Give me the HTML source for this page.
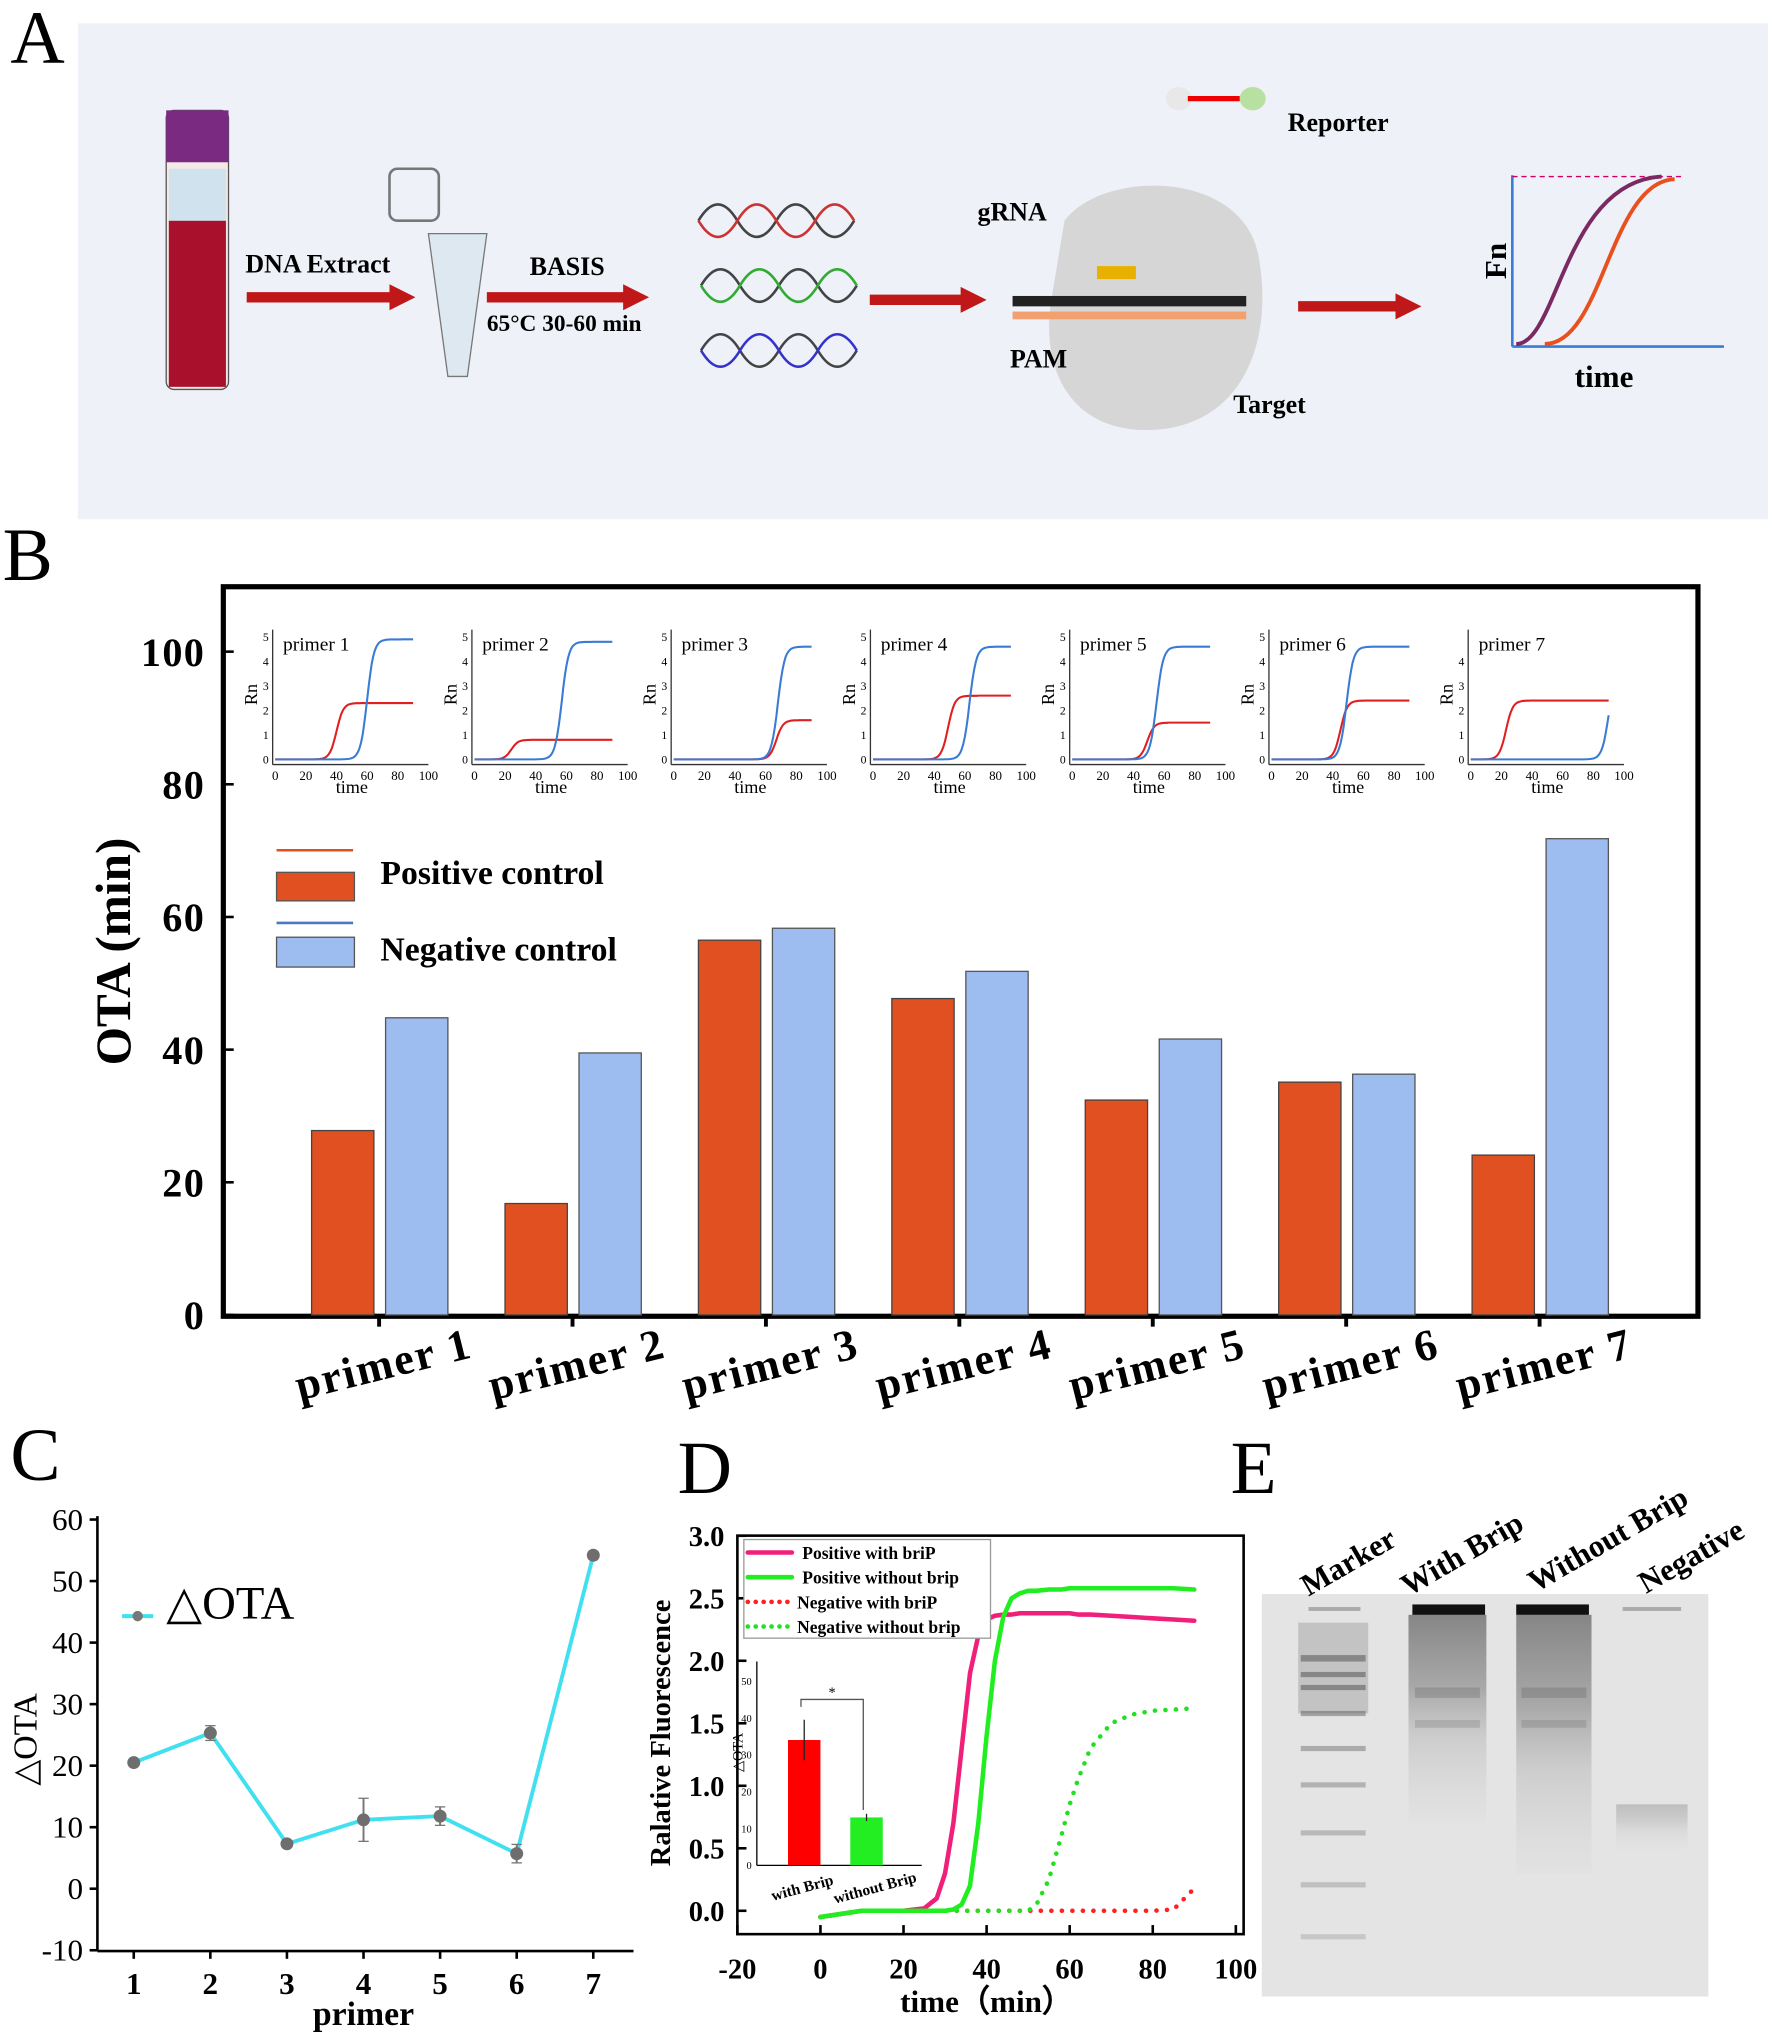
<!DOCTYPE html>
<html><head><meta charset="utf-8"><style>
html,body{margin:0;padding:0;background:#fff}
svg{display:block;font-family:"Liberation Serif",serif}
</style></head><body>
<svg id="fig" width="1772" height="2038" viewBox="0 0 1365 1570" xmlns="http://www.w3.org/2000/svg">
<defs>
<linearGradient id="smear" x1="0" y1="0" x2="0" y2="1">
<stop offset="0" stop-color="#666" stop-opacity="0.75"/>
<stop offset="0.35" stop-color="#777" stop-opacity="0.55"/>
<stop offset="0.6" stop-color="#999" stop-opacity="0.3"/>
<stop offset="1" stop-color="#bbb" stop-opacity="0.05"/>
</linearGradient>
</defs>
<g font-size="58" fill="#000">
<text x="8" y="48">A</text>
<text x="2" y="447">B</text>
<text x="8" y="1140">C</text>
<text x="522" y="1150">D</text>
<text x="948" y="1150">E</text>
</g>

<g>
<rect x="60" y="18" width="1302" height="382" fill="#eef2f8"/>
<rect x="128" y="85" width="48" height="215" rx="6" fill="#f4e9e4" stroke="#555"/>
<rect x="128" y="85" width="48" height="40" fill="#7a2a80"/>
<rect x="130" y="170" width="44" height="128" fill="#a8102c"/>
<rect x="130" y="130" width="44" height="40" fill="#cfe2ee"/>
<polygon points="330,180 375,180 360,290 345,290" fill="#dde8f0" stroke="#777"/>
<rect x="300" y="130" width="38" height="40" rx="6" fill="none" stroke="#777" stroke-width="2"/>
<g fill="#c01818">
<polygon points="190,225 300,225 300,219 320,229 300,239 300,233 190,233"/>
<polygon points="375,225 480,225 480,219 500,229 480,239 480,233 375,233"/>
<polygon points="670,227 740,227 740,221 760,231 740,241 740,235 670,235"/>
<polygon points="1000,232 1075,232 1075,226 1095,236 1075,246 1075,240 1000,240"/>
</g>
<g stroke-width="2" fill="none">
<path d="M538 170 q15 -25 30 0 t30 0 t30 0 t30 0" stroke="#444"/>
<path d="M538 170 q15 25 30 0 t30 0 t30 0 t30 0" stroke="#c33"/>
<path d="M540 220 q15 -25 30 0 t30 0 t30 0 t30 0" stroke="#444"/>
<path d="M540 220 q15 25 30 0 t30 0 t30 0 t30 0" stroke="#3a3"/>
<path d="M540 270 q15 -25 30 0 t30 0 t30 0 t30 0" stroke="#444"/>
<path d="M540 270 q15 25 30 0 t30 0 t30 0 t30 0" stroke="#33c"/>
</g>
<path d="M820 170 C850 130 960 130 970 200 C980 260 960 320 900 330 C830 340 800 290 810 230 Z" fill="#d6d6d6"/>
<rect x="780" y="228" width="180" height="8" fill="#222"/>
<rect x="780" y="240" width="180" height="6" fill="#f2a070"/>
<rect x="845" y="205" width="30" height="10" fill="#e8b000"/>
<ellipse cx="908" cy="76" rx="10" ry="9" fill="#e8e8e8"/>
<ellipse cx="965" cy="76" rx="10" ry="9" fill="#b8e0a0"/>
<line x1="915" y1="76" x2="955" y2="76" stroke="#e00" stroke-width="4"/>
<g font-weight="bold" font-size="20">
<text x="189" y="210">DNA  Extract</text>
<text x="408" y="212">BASIS</text>
<text x="375" y="255" font-size="18">65°C 30-60 min</text>
<text x="753" y="170">gRNA</text>
<text x="778" y="283">PAM</text>
<text x="950" y="318">Target</text>
<text x="992" y="101">Reporter</text>
<text x="1213" y="298" font-size="24">time</text>
<text x="1145" y="230" font-size="24" transform="rotate(-90 1145 215)">Fn</text>
</g>
<g>
<line x1="1165" y1="135" x2="1165" y2="267" stroke="#3a7bd5" stroke-width="2"/>
<line x1="1165" y1="267" x2="1328" y2="267" stroke="#3a7bd5" stroke-width="2"/>
<line x1="1165" y1="136" x2="1295" y2="136" stroke="#c06" stroke-dasharray="4 3"/>
<path d="M1168 265 C1200 265 1205 140 1280 136" stroke="#7a2a60" stroke-width="3" fill="none"/>
<path d="M1190 265 C1235 265 1240 140 1290 138" stroke="#e8501e" stroke-width="3" fill="none"/>
</g>
</g>

<g id="panelB">
<rect x="172" y="452" width="1136" height="562" fill="none" stroke="#000" stroke-width="4"/>
<text x="0" y="0" transform="translate(100 733) rotate(-90)" text-anchor="middle" font-size="38" font-weight="bold">OTA (min)</text>
<g>
<line x1="213" y1="655" x2="272" y2="655" stroke="#e05020" stroke-width="2"/>
<rect x="213" y="672" width="60" height="22" fill="#e05020" stroke="#555"/>
<text x="293" y="681" font-size="26" font-weight="bold">Positive control</text>
<line x1="213" y1="711" x2="272" y2="711" stroke="#4a78c8" stroke-width="2"/>
<rect x="213" y="722" width="60" height="23" fill="#9dbcf0" stroke="#555"/>
<text x="293" y="740" font-size="26" font-weight="bold">Negative control</text>
</g>
</g>

<g id="panelC">
<text x="0" y="0" transform="translate(28 1340) rotate(-90)" text-anchor="middle" font-size="26">△OTA</text>
<text x="280" y="1560" text-anchor="middle" font-size="26" font-weight="bold">primer</text>
<line x1="94" y1="1245" x2="118" y2="1245" stroke="#40e0f0" stroke-width="3"/>
<circle cx="106" cy="1245" r="4" fill="#777"/>
<text x="128" y="1247" font-size="36">△OTA</text>
</g>

<g id="panelD">
<text x="0" y="0" transform="translate(516 1335) rotate(-90)" text-anchor="middle" font-size="22" font-weight="bold">Ralative Fluorescence</text>
<text x="760" y="1550" text-anchor="middle" font-size="24" font-weight="bold">time（min）</text>
</g>

<g>
<rect x="972" y="1228" width="344" height="310" fill="#e4e4e4"/>
<g fill="#555">
<rect x="1000" y="1250" width="54" height="70" fill="#888" opacity="0.35"/>
<rect x="1002" y="1275" width="50" height="5" opacity="0.55"/>
<rect x="1002" y="1288" width="50" height="4" opacity="0.55"/>
<rect x="1002" y="1298" width="50" height="4" opacity="0.55"/>
<rect x="1002" y="1318" width="50" height="4" opacity="0.45"/>
<rect x="1002" y="1345" width="50" height="4" opacity="0.4"/>
<rect x="1002" y="1373" width="50" height="4" opacity="0.35"/>
<rect x="1002" y="1410" width="50" height="4" opacity="0.3"/>
<rect x="1002" y="1450" width="50" height="4" opacity="0.25"/>
<rect x="1002" y="1490" width="50" height="4" opacity="0.2"/>
<rect x="1085" y="1244" width="60" height="160" fill="url(#smear)"/>
<rect x="1168" y="1244" width="58" height="200" fill="url(#smear)"/>
<rect x="1090" y="1300" width="50" height="8" opacity="0.25"/>
<rect x="1090" y="1325" width="50" height="6" opacity="0.2"/>
<rect x="1172" y="1300" width="50" height="8" opacity="0.25"/>
<rect x="1172" y="1325" width="50" height="6" opacity="0.2"/>
<rect x="1245" y="1390" width="55" height="35" fill="url(#smear)" opacity="0.4"/>
<rect x="1088" y="1236" width="56" height="8" fill="#111"/>
<rect x="1168" y="1236" width="56" height="8" fill="#111"/>
<rect x="1008" y="1238" width="40" height="3" opacity="0.4"/>
<rect x="1250" y="1238" width="45" height="3" opacity="0.4"/>
</g>
<g font-size="24" font-weight="bold">
<text transform="translate(1008 1230) rotate(-30)">Marker</text>
<text transform="translate(1085 1230) rotate(-30)">With Brip</text>
<text transform="translate(1183 1227) rotate(-30)">Without Brip</text>
<text transform="translate(1268 1228) rotate(-30)">Negative</text>
</g>
</g>

<script>
const primers = ["primer 1","primer 2","primer 3","primer 4","primer 5","primer 6","primer 7"];
const positiveOTA = [27.8, 16.8, 56.5, 47.7, 32.4, 35.1, 24.1];
const negativeOTA = [44.8, 39.5, 58.3, 51.8, 41.6, 36.3, 71.8];
const bTicks = [0, 20, 40, 60, 80, 100];
const insetRedOnset = [35, 19, 62, 44, 44, 40, 18];
const insetRedPlateau = [2.3, 0.8, 1.6, 2.6, 1.5, 2.4, 2.4];
const insetBlueOnset = [55, 52, 63, 58, 50, 44, 85];
const insetBluePlateau = [4.9, 4.8, 4.6, 4.6, 4.6, 4.6, 3.6];
const cPrimers = [1, 2, 3, 4, 5, 6, 7];
const deltaOTA = [20.5, 25.3, 7.3, 11.2, 11.8, 5.7, 54.2];
const deltaErr = [0.5, 1.2, 0.4, 3.5, 1.5, 1.5, 0.5];
const cTicks = [-10, 0, 10, 20, 30, 40, 50, 60];
const dTime = [0, 10, 20, 25, 28, 30, 32, 34, 36, 38, 40, 42, 44, 46, 48, 50, 52, 55, 58, 60, 62, 65, 70, 75, 80, 85, 90];
const posWith = [-0.05, 0.0, 0.0, 0.02, 0.1, 0.3, 0.7, 1.3, 1.9, 2.2, 2.33, 2.36, 2.37, 2.37, 2.38, 2.38, 2.38, 2.38, 2.38, 2.38, 2.37, 2.37, 2.36, 2.35, 2.34, 2.33, 2.32];
const posWithout = [-0.05, 0.0, 0.0, 0.0, 0.0, 0.0, 0.01, 0.05, 0.2, 0.7, 1.4, 2.0, 2.35, 2.5, 2.54, 2.56, 2.56, 2.57, 2.57, 2.58, 2.58, 2.58, 2.58, 2.58, 2.58, 2.58, 2.57];
const negWith = [-0.05, 0.0, 0.0, 0.0, 0.0, 0.0, 0.0, 0.0, 0.0, 0.0, 0.0, 0.0, 0.0, 0.0, 0.0, 0.0, 0.0, 0.0, 0.0, 0.0, 0.0, 0.0, 0.0, 0.0, 0.0, 0.01, 0.18];
const negWithout = [-0.05, 0.0, 0.0, 0.0, 0.0, 0.0, 0.0, 0.0, 0.0, 0.0, 0.0, 0.0, 0.0, 0.0, 0.0, 0.0, 0.05, 0.25, 0.6, 0.85, 1.05, 1.3, 1.5, 1.57, 1.6, 1.61, 1.62];
const dYTicks = [0, 0.5, 1.0, 1.5, 2.0, 2.5, 3.0];
const dXTicks = [-20, 0, 20, 40, 60, 80, 100];
const insetLabels = ["with Brip", "without Brip"];
const insetValues = [34, 13];
const insetErr = [5.5, 1];

const NS = "http://www.w3.org/2000/svg";
function mk(parent, tag, attrs, text) {
  const e = document.createElementNS(NS, tag);
  for (const k in attrs) e.setAttribute(k, attrs[k]);
  if (text !== undefined) e.textContent = text;
  parent.appendChild(e);
  return e;
}

const gB = document.getElementById("panelB");
const bY = v => 1013 - v * 5.11;
const bGroupX = i => 240 + i * 149;
bTicks.forEach(t => {
  const tx = mk(gB, "text", {x: 158, y: bY(t) + 11, "text-anchor": "end", "font-size": 31, "font-weight": "bold", "letter-spacing": 1}, String(t));
  
  
  mk(gB, "line", {x1: 172, x2: 180, y1: bY(t), y2: bY(t), stroke: "#000", "stroke-width": 2});
});
primers.forEach((p, i) => {
  const x = bGroupX(i);
  const r1 = mk(gB, "rect", {x: x, y: bY(positiveOTA[i]), width: 48, height: bY(0) - bY(positiveOTA[i]), fill: "#e05020", stroke: "#444", "stroke-width": 1});
  
  
  const r2 = mk(gB, "rect", {x: x + 57, y: bY(negativeOTA[i]), width: 48, height: bY(0) - bY(negativeOTA[i]), fill: "#9dbcf0", stroke: "#555", "stroke-width": 1});
  
  
  mk(gB, "line", {x1: x + 52, x2: x + 52, y1: 1013, y2: 1022, stroke: "#000", "stroke-width": 3});
  const lab = mk(gB, "text", {transform: `translate(${x + 58} 1062) rotate(-14)`, "text-anchor": "middle", "font-size": 34, "font-weight": "bold", "letter-spacing": 1.5}, p);
  
  

  const ox = 212 + i * 153.5, oy = 585, w = 118, h = 100;
  const ix = t => ox + t / 100 * w;
  const iy = v => oy - v / 5.3 * h;
  const ig = mk(gB, "g", {});
  
  
  mk(ig, "line", {x1: ox - 2, x2: ox - 2, y1: oy - h, y2: oy + 4, stroke: "#333", "stroke-width": 1});
  mk(ig, "line", {x1: ox - 2, x2: ox + w, y1: oy + 4, y2: oy + 4, stroke: "#333", "stroke-width": 1});
  [0, 20, 40, 60, 80, 100].forEach(t => mk(ig, "text", {x: ix(t), y: oy + 16, "text-anchor": "middle", "font-size": 10}, String(t)));
  [0, 1, 2, 3, 4, 5].forEach(v => { if (i < 6 || v < 5) mk(ig, "text", {x: ox - 5, y: iy(v) + 3, "text-anchor": "end", "font-size": 9}, String(v)); });
  mk(ig, "text", {x: ix(50), y: oy + 26, "text-anchor": "middle", "font-size": 14}, "time");
  mk(ig, "text", {transform: `translate(${ox - 14} ${oy - 50}) rotate(-90)`, "text-anchor": "middle", "font-size": 14}, "Rn");
  mk(ig, "text", {x: ox + 6, y: oy - 84, "font-size": 15}, p);
  function curve(on, pl, col, end) {
    let d = "";
    for (let t = 0; t <= end; t += 1) {
      const v = pl / (1 + Math.exp(-(t - on - 5) / 2.2));
      d += (t ? "L" : "M") + ix(t).toFixed(1) + " " + iy(v).toFixed(1);
    }
    mk(ig, "path", {d: d, fill: "none", stroke: col, "stroke-width": 1.6});
  }
  curve(insetRedOnset[i], insetRedPlateau[i], "#e02020", 90);
  curve(insetBlueOnset[i], insetBluePlateau[i], "#3a7bd5", 90);
});

const gC = document.getElementById("panelC");
const cY = v => 1455 - v * 4.74;
const cX = p => 103 + (p - 1) * 59;
mk(gC, "line", {x1: 75, x2: 75, y1: 1168, y2: 1503, stroke: "#000", "stroke-width": 2});
mk(gC, "line", {x1: 75, x2: 488, y1: 1503, y2: 1503, stroke: "#000", "stroke-width": 2});
cTicks.forEach(t => {
  mk(gC, "line", {x1: 69, x2: 75, y1: cY(t), y2: cY(t), stroke: "#000", "stroke-width": 2});
  const tx = mk(gC, "text", {x: 64, y: cY(t) + 8, "text-anchor": "end", "font-size": 24}, String(t));
  
  
});
cPrimers.forEach(p => {
  mk(gC, "line", {x1: cX(p), x2: cX(p), y1: 1503, y2: 1509, stroke: "#000", "stroke-width": 2});
  const tx = mk(gC, "text", {x: cX(p), y: 1536, "text-anchor": "middle", "font-size": 24, "font-weight": "bold"}, String(p));
  
  
});
const cLine = mk(gC, "polyline", {points: cPrimers.map((p, i) => cX(p) + "," + cY(deltaOTA[i])).join(" "), fill: "none", stroke: "#40e0f0", "stroke-width": 3});


cPrimers.forEach((p, i) => {
  const x = cX(p);
  mk(gC, "line", {x1: x, x2: x, y1: cY(deltaOTA[i] - deltaErr[i]), y2: cY(deltaOTA[i] + deltaErr[i]), stroke: "#777", "stroke-width": 1.5});
  mk(gC, "line", {x1: x - 4, x2: x + 4, y1: cY(deltaOTA[i] + deltaErr[i]), y2: cY(deltaOTA[i] + deltaErr[i]), stroke: "#777"});
  mk(gC, "line", {x1: x - 4, x2: x + 4, y1: cY(deltaOTA[i] - deltaErr[i]), y2: cY(deltaOTA[i] - deltaErr[i]), stroke: "#777"});
  const c = mk(gC, "circle", {cx: x, cy: cY(deltaOTA[i]), r: 5, fill: "#6e6e6e"});
  
  
});

const gD = document.getElementById("panelD");
const dY = v => 1472 - v * 96.3;
const dX = t => 632 + t * 3.2;
mk(gD, "rect", {x: 568, y: 1183, width: 390, height: 307, fill: "none", stroke: "#000", "stroke-width": 2});
dYTicks.forEach(t => {
  mk(gD, "line", {x1: 568, x2: 575, y1: dY(t), y2: dY(t), stroke: "#000", "stroke-width": 2});
  const tx = mk(gD, "text", {x: 558, y: dY(t) + 8, "text-anchor": "end", "font-size": 22, "font-weight": "bold"}, t.toFixed(1));
  
  
});
dXTicks.forEach(t => {
  mk(gD, "line", {x1: dX(t), x2: dX(t), y1: 1490, y2: 1483, stroke: "#000", "stroke-width": 2});
  const tx = mk(gD, "text", {x: dX(t), y: 1524, "text-anchor": "middle", "font-size": 22, "font-weight": "bold"}, String(t));
  
  
});
function dSeries(vals, col, dash, name) {
  const pl = mk(gD, "polyline", {points: dTime.map((t, i) => dX(t).toFixed(1) + "," + dY(vals[i]).toFixed(1)).join(" "), fill: "none", stroke: col, "stroke-width": 3.5, "stroke-dasharray": dash, "stroke-linecap": "round", "stroke-linejoin": "round"});
  
  
}
dSeries(negWith, "#ff2020", "0.1 8", "line-negative-with-brip");
dSeries(negWithout, "#20e020", "0.1 8", "line-negative-without-brip");
dSeries(posWith, "#f0207a", "none", "line-positive-with-brip");
dSeries(posWithout, "#20ee20", "none", "line-positive-without-brip");
const lg = mk(gD, "g", {});


mk(lg, "rect", {x: 573, y: 1186, width: 190, height: 76, fill: "#fff", stroke: "#999"});
[["Positive with briP", "#f0207a", "none"], ["Positive without brip", "#20ee20", "none"], ["Negative with briP", "#ff2020", "0.1 6"], ["Negative without brip", "#20e020", "0.1 6"]].forEach((e, i) => {
  const y = 1196 + i * 19;
  mk(lg, "line", {x1: 576, x2: 610, y1: y, y2: y, stroke: e[1], "stroke-width": 3.5, "stroke-dasharray": e[2], "stroke-linecap": "round"});
  mk(lg, "text", {x: i > 1 ? 614 : 618, y: y + 5, "font-size": 13.5, "font-weight": "bold"}, e[0]);
});
const ib = mk(gD, "g", {});


const iY = v => 1437 - v * 2.84;
mk(ib, "line", {x1: 583, x2: 583, y1: 1280, y2: 1437, stroke: "#000"});
mk(ib, "line", {x1: 583, x2: 710, y1: 1437, y2: 1437, stroke: "#000"});
[0, 10, 20, 30, 40, 50].forEach(t => mk(ib, "text", {x: 579, y: iY(t) + 3, "text-anchor": "end", "font-size": 8}, String(t)));
mk(ib, "text", {transform: "translate(572 1350) rotate(-90)", "text-anchor": "middle", "font-size": 11}, "△OTA");
const ibCols = ["#ff0000", "#22ee22"];
insetValues.forEach((v, i) => {
  const x = 607 + i * 48;
  const r = mk(ib, "rect", {x: x, y: iY(v), width: 25, height: iY(0) - iY(v), fill: ibCols[i]});
  
  
  mk(ib, "line", {x1: x + 12.5, x2: x + 12.5, y1: iY(v - insetErr[i]), y2: iY(v + insetErr[i]), stroke: "#222"});
  mk(ib, "text", {transform: `translate(${x + 12 + i * 8} 1458) rotate(-15)`, "text-anchor": "middle", "font-size": 12, "font-weight": "bold"}, insetLabels[i]);
});
mk(ib, "path", {d: `M617 ${iY(43)} V${iY(45)} H665 V${iY(15)}`, fill: "none", stroke: "#555"});
mk(ib, "text", {x: 641, y: iY(45) - 2, "text-anchor": "middle", "font-size": 11}, "*");
</script>
</svg>
</body></html>
